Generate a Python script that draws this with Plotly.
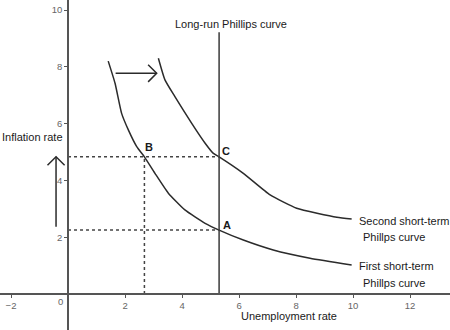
import plotly.graph_objects as go

# Short-run Phillips curves (unemployment %, inflation %)
first_srpc_u = [1.41, 1.65, 1.88, 2.12, 2.41, 2.68, 3.05, 3.52, 4.10, 4.81, 5.30, 6.15, 7.20, 8.49, 9.95]
first_srpc_pi = [8.20, 7.42, 6.36, 5.77, 5.19, 4.83, 4.25, 3.55, 2.96, 2.49, 2.25, 1.90, 1.55, 1.26, 1.02]

second_srpc_u = [3.17, 3.40, 3.75, 4.34, 4.81, 5.10, 5.30, 6.15, 7.09, 8.02, 9.43, 9.95]
second_srpc_pi = [8.30, 7.54, 6.95, 6.01, 5.31, 4.95, 4.83, 4.25, 3.49, 3.02, 2.70, 2.64]

# Long-run Phillips curve (natural rate of unemployment)
natural_rate = 5.30
lrpc_top = 9.22

# Equilibrium points
points = {"A": (5.30, 2.25), "B": (2.68, 4.83), "C": (5.30, 4.83)}

# Shift arrows: (start, end)
arrow_right = ((1.67, 7.77), (3.11, 7.77))
arrow_up = ((-0.42, 2.37), (-0.42, 4.83))

x_ticks = [-2, 2, 4, 6, 8, 10, 12]
y_ticks = [2, 4, 6, 8, 10]

X_RANGE = [-2.386, 13.40]
Y_RANGE = [-1.268, 10.352]

INK = "#2b2b2b"
AXIS = "#555555"
FONT = "Liberation Sans, Arial, sans-serif"

fig = go.Figure()

line_style = dict(color=INK, width=1.5, shape="spline", smoothing=0.5)
fig.add_trace(go.Scatter(x=first_srpc_u, y=first_srpc_pi, mode="lines", line=line_style))
fig.add_trace(go.Scatter(x=second_srpc_u, y=second_srpc_pi, mode="lines", line=line_style))
fig.add_trace(go.Scatter(x=[natural_rate, natural_rate], y=[0, lrpc_top], mode="lines",
                         line=dict(color="#3a3a3a", width=1.5)))

# Dotted guide lines to the axes
dot = dict(color="#444444", width=1.5, dash="dot")
ua, pa = points["A"]
ub, pb = points["B"]
uc, pc = points["C"]
fig.add_trace(go.Scatter(x=[0, uc], y=[pc, pc], mode="lines", line=dot))
fig.add_trace(go.Scatter(x=[0, ua], y=[pa, pa], mode="lines", line=dot))
fig.add_trace(go.Scatter(x=[ub, ub], y=[0, pb], mode="lines", line=dot))


def draw_arrow(start, end, head=0.3):
    (x0, y0), (x1, y1) = start, end
    dx, dy = x1 - x0, y1 - y0
    n = (dx ** 2 + dy ** 2) ** 0.5
    ux, uy = dx / n, dy / n
    px, py = -uy, ux
    bx, by = x1 - ux * head, y1 - uy * head
    fig.add_trace(go.Scatter(x=[x0, x1], y=[y0, y1], mode="lines", line=dict(color=INK, width=1.5)))
    fig.add_trace(go.Scatter(
        x=[bx + px * head, x1, bx - px * head],
        y=[by + py * head, y1, by - py * head],
        mode="lines", line=dict(color=INK, width=1.5)))


draw_arrow(*arrow_right)
draw_arrow(*arrow_up)

annotations = [
    dict(x=5.72, y=9.51, text="Long-run Phillips curve", xanchor="center"),
    dict(x=-2.38, y=5.53, text="Inflation rate", xanchor="left"),
    dict(x=7.75, y=-0.77, text="Unemployment rate", xanchor="center"),
    dict(x=10.15, y=2.57, text="Second short-term", xanchor="left"),
    dict(x=10.27, y=1.99, text="Phillps curve", xanchor="left"),
    dict(x=10.15, y=1.00, text="First short-term", xanchor="left"),
    dict(x=10.27, y=0.40, text="Phillps curve", xanchor="left"),
]
offsets = {"A": (0.28, 0.18), "B": (0.16, 0.33), "C": (0.24, 0.2)}
for name, (u, p) in points.items():
    ox, oy = offsets[name]
    annotations.append(dict(x=u + ox, y=p + oy, text=f"<b>{name}</b>", xanchor="center"))
for a in annotations:
    a.update(xref="x", yref="y", showarrow=False, yanchor="middle",
             font=dict(family=FONT, size=11, color="#1a1a1a"))
# origin label
annotations.append(dict(x=-0.28, y=-0.27, xref="x", yref="y", text="0", showarrow=False,
                        font=dict(family=FONT, size=9.5, color="#666666")))

axis_common = dict(showgrid=False, zeroline=False, showline=True, linecolor=AXIS, linewidth=1.5,
                   ticks="outside", ticklen=3, tickcolor=AXIS,
                   tickfont=dict(family=FONT, size=9.5, color="#666666"), anchor="free")

fig.update_layout(
    width=450, height=330, margin=dict(l=0, r=0, t=0, b=0),
    paper_bgcolor="white", plot_bgcolor="white", showlegend=False,
    xaxis=dict(range=X_RANGE, tickvals=x_ticks, position=(0 - Y_RANGE[0]) / (Y_RANGE[1] - Y_RANGE[0]),
               **axis_common),
    yaxis=dict(range=Y_RANGE, tickvals=y_ticks, position=(0 - X_RANGE[0]) / (X_RANGE[1] - X_RANGE[0]),
               **axis_common),
    annotations=annotations,
)

fig.write_html("out.html")
